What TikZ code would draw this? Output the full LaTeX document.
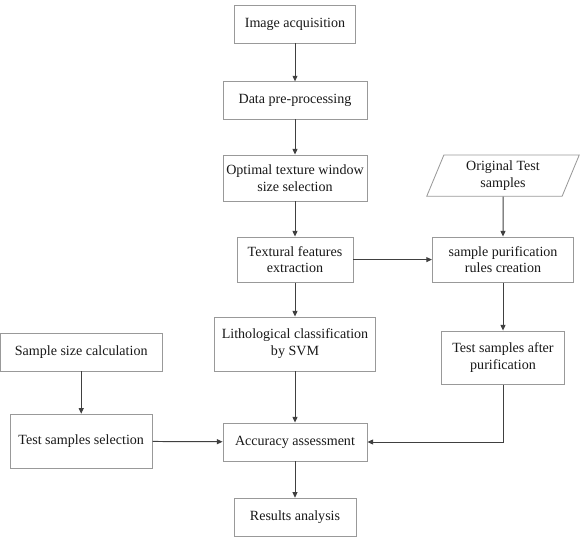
\documentclass[tikz,border=0pt]{standalone}
\usepackage{fontspec}
\setmainfont{Liberation Serif}
\usepackage{tikz}
\usetikzlibrary{positioning,shapes.geometric,arrows.meta}

\begin{document}
\begin{tikzpicture}[
        stepbox/.style={rectangle, draw=black!40, line width=0.6pt, fill=white, text=black!90, align=center, inner sep=2pt},
        databox/.style={trapezium, trapezium left angle=72, trapezium right angle=108, trapezium stretches=true, draw=black!40, line width=0.6pt, text=black!90, align=center, inner sep=2pt},
        arr/.style={-{Triangle[length=4pt,width=3.5pt]}, draw=black!75, line width=0.7pt},
    ]
    \useasboundingbox (0,0) rectangle (14.5,-13.55);

    % Nodes
    \node[stepbox, minimum width=3.03cm, minimum height=0.95cm] (acq) at (7.375,-0.6) {Image acquisition};
    \node[stepbox, minimum width=3.6cm, minimum height=0.93cm] (pre) at (7.375,-2.51) {Data pre-processing};
    \node[stepbox, minimum width=3.6cm, minimum height=1.15cm] (opt) at (7.375,-4.45) {Optimal texture window\\size selection};
    \node[stepbox, minimum width=2.9cm, minimum height=1.13cm] (tex) at (7.375,-6.49) {Textural features\\extraction};

    \node[databox, minimum width=3.83cm, minimum height=1.03cm] (orig) at (12.575,-4.39) {Original Test\\samples};
    \node[stepbox, minimum width=3.53cm, minimum height=1.13cm] (pur) at (12.575,-6.49) {sample purification\\rules creation};
    \node[stepbox, minimum width=3.08cm, minimum height=1.33cm] (after) at (12.575,-8.94) {Test samples after\\purification};

    \node[stepbox, minimum width=4.03cm, minimum height=1.35cm] (lith) at (7.375,-8.6) {Lithological classification\\by SVM};

    \node[stepbox, minimum width=4.05cm, minimum height=0.95cm] (size) at (2.03,-8.8) {Sample size calculation};
    \node[stepbox, minimum width=3.55cm, minimum height=1.35cm] (sel) at (2.03,-11.03) {Test samples selection};

    \node[stepbox, minimum width=3.6cm, minimum height=0.95cm] (acc) at (7.375,-11.05) {Accuracy assessment};
    \node[stepbox, minimum width=3.05cm, minimum height=0.95cm] (res) at (7.375,-12.93) {Results analysis};

    % Edges
    \draw[arr] (acq) -- (pre);
    \draw[arr] (pre) -- (opt);
    \draw[arr] (opt) -- (tex);
    \draw[arr] (tex) -- (lith);
    \draw[arr] (lith) -- (acc);
    \draw[arr] (acc) -- (res);

    \draw[arr] (tex) -- (pur);
    \draw[arr] (orig) -- (pur);
    \draw[arr] (pur) -- (after);
    \draw[arr] (after.south) |- (acc.east);

    \draw[arr] (size) -- (sel);
    \draw[arr] (sel) -- (acc);
\end{tikzpicture}
\end{document}
